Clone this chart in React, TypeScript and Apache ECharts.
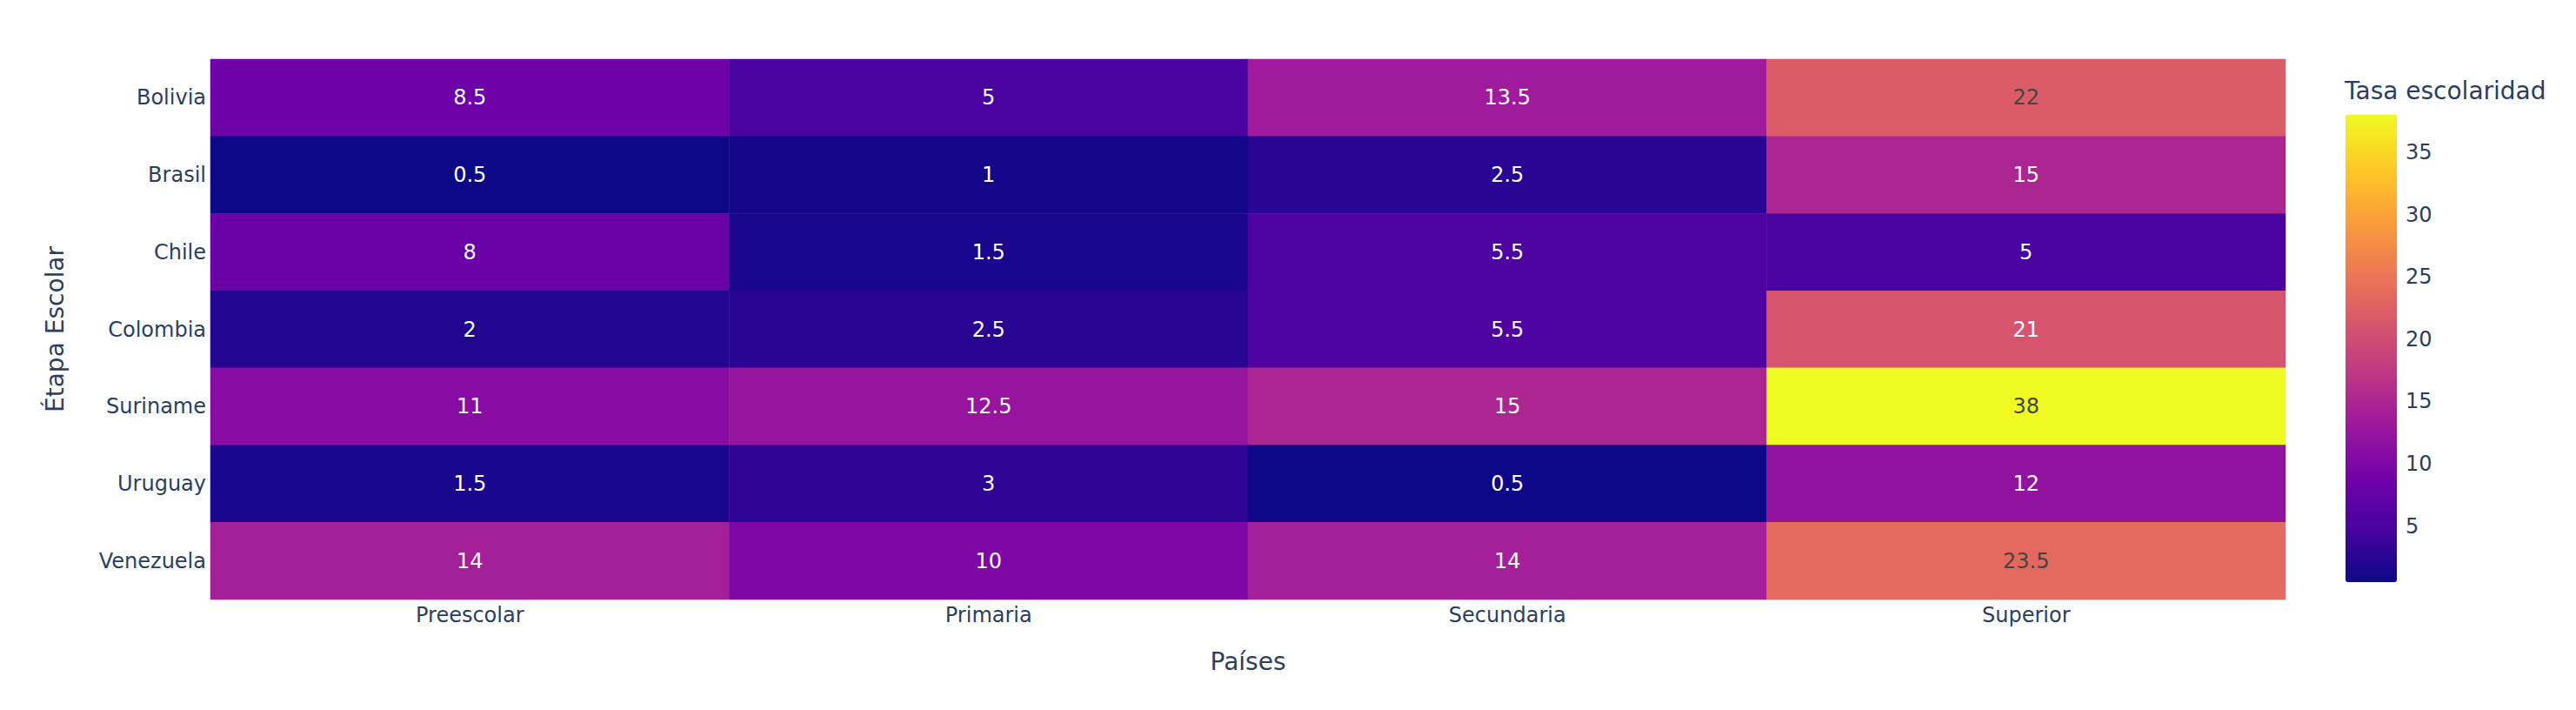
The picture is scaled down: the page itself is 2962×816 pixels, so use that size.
import React, { useEffect, useRef } from "react";
import * as echarts from "echarts";

const stages = ["Preescolar", "Primaria", "Secundaria", "Superior"];
const countries = ["Bolivia", "Brasil", "Chile", "Colombia", "Suriname", "Uruguay", "Venezuela"];

const bolivia = [8.5, 5, 13.5, 22];
const brasil = [0.5, 1, 2.5, 15];
const chile = [8, 1.5, 5.5, 5];
const colombia = [2, 2.5, 5.5, 21];
const suriname = [11, 12.5, 15, 38];
const uruguay = [1.5, 3, 0.5, 12];
const venezuela = [14, 10, 14, 23.5];

const rows = [bolivia, brasil, chile, colombia, suriname, uruguay, venezuela];

const colorbarTicks = [5, 10, 15, 20, 25, 30, 35];
const valueMin = 0.5;
const valueMax = 38;

const plasma = [
  "#0d0887", "#46039f", "#7201a8", "#9c179e", "#bd3786",
  "#d8576b", "#ed7953", "#fb9f3a", "#fdca26", "#f0f921",
];

const FONT = "DejaVu Sans";
const AXIS_COLOR = "#2a3f5f";

export default function App() {
  const ref = useRef<HTMLDivElement>(null);

  useEffect(() => {
    if (!ref.current) return;
    const chart = echarts.init(ref.current, undefined, { renderer: "svg" });

    const data: any[] = [];
    rows.forEach((row, yi) => {
      row.forEach((v, xi) => {
        data.push({
          value: [xi, yi, v],
          label: { color: v > 21.5 ? "#444444" : "#ffffff" },
        });
      });
    });

    chart.setOption({
      animation: false,
      backgroundColor: "#ffffff",
      textStyle: { fontFamily: FONT },
      title: {
        text: "Tasa escolaridad",
        left: 2696,
        top: 90,
        padding: 0,
        textStyle: { fontFamily: FONT, fontSize: 28, fontWeight: "normal", color: AXIS_COLOR },
      },
      grid: [
        { left: 242, right: 334, top: 68, bottom: 127 },
        { left: 2697, width: 59, top: 132, height: 537 },
      ],
      xAxis: [
        {
          type: "category",
          data: stages,
          gridIndex: 0,
          name: "Países",
          nameLocation: "middle",
          nameGap: 57,
          nameTextStyle: { fontFamily: FONT, fontSize: 28, color: AXIS_COLOR },
          axisLine: { show: false },
          axisTick: { show: false },
          splitLine: { show: false },
          axisLabel: { fontFamily: FONT, fontSize: 24, color: AXIS_COLOR, margin: 6 },
        },
        { type: "value", gridIndex: 1, show: false, min: 0, max: 1 },
      ],
      yAxis: [
        {
          type: "category",
          data: countries,
          inverse: true,
          gridIndex: 0,
          name: "Étapa Escolar",
          nameLocation: "middle",
          nameGap: 165,
          nameTextStyle: { fontFamily: FONT, fontSize: 28, color: AXIS_COLOR },
          axisLine: { show: false },
          axisTick: { show: false },
          splitLine: { show: false },
          axisLabel: { fontFamily: FONT, fontSize: 24, color: AXIS_COLOR, margin: 5 },
        },
        {
          type: "value",
          gridIndex: 1,
          position: "right",
          min: valueMin,
          max: valueMax,
          axisLine: { show: false },
          axisTick: { show: false },
          splitLine: { show: false },
          axisLabel: {
            fontFamily: FONT,
            fontSize: 24,
            color: AXIS_COLOR,
            margin: 10,
            customValues: colorbarTicks,
          },
        },
      ],
      visualMap: {
        type: "continuous",
        min: valueMin,
        max: valueMax,
        calculable: false,
        orient: "vertical",
        left: 2697,
        top: 132,
        padding: 0,
        itemWidth: 59,
        itemHeight: 537,
        seriesIndex: 0,
        inRange: { color: plasma },
        hoverLink: false,
      },
      series: [
        {
          type: "heatmap",
          xAxisIndex: 0,
          yAxisIndex: 0,
          data,
          itemStyle: { borderWidth: 0 },
          label: {
            show: true,
            fontFamily: FONT,
            fontSize: 24,
            formatter: (p: any) => String(p.value[2]),
          },
          emphasis: { disabled: true },
        },
      ],
    });

    return () => chart.dispose();
  }, []);

  return (
    <div
      ref={ref}
      style={{ position: "fixed", left: 0, top: 0, width: 2962, height: 816 }}
    />
  );
}
